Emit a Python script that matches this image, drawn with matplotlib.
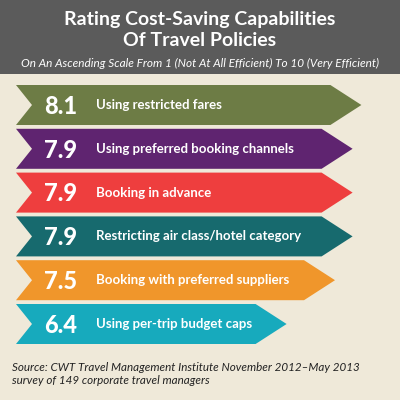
import matplotlib
matplotlib.use("Agg")
import matplotlib.pyplot as plt
from matplotlib.patches import Polygon, Rectangle

# ---- data ----
values = [8.1, 7.9, 7.9, 7.9, 7.5, 6.4]
value_labels = ["8.1", "7.9", "7.9", "7.9", "7.5", "6.4"]
categories = [
    "Using restricted fares",
    "Using preferred booking channels",
    "Booking in advance",
    "Restricting air class/hotel category",
    "Booking with preferred suppliers",
    "Using per-trip budget caps",
]
colors = ["#6d7c45", "#5f2470", "#ee3e3e", "#176a6e", "#f0962b", "#17aabd"]

title_lines = ["Rating Cost-Saving Capabilities", "Of Travel Policies"]
subtitle = "On An Ascending Scale From 1 (Not At All Efficient) To 10 (Very Efficient)"
source = ("Source: CWT Travel Management Institute November 2012\u2013May 2013\n"
          "survey of 149 corporate travel managers")

BG = "#efe9d9"
HEADER = "#5b5b5b"
FONT = "Lato"

fig = plt.figure(figsize=(4, 4), dpi=100, facecolor=BG)
ax = fig.add_axes([0, 0, 1, 1])
ax.set_facecolor(BG)
# pixel mapping: x_px = 5 + 44*v ; y_px = 105 + 43.8*i
ax.set_xlim(-5 / 44, 395 / 44)
ax.set_ylim((400 - 105) / 43.8, -105 / 43.8)
ax.axis("off")

# header
fig.patches.append(Rectangle((0, 1 - 74 / 400), 1, 74 / 400, transform=fig.transFigure,
                             facecolor=HEADER, edgecolor="none", zorder=0))
for ypx, line in zip([20, 40], title_lines):
    fig.text(0.5, 1 - ypx / 400, line, ha="center", va="center", color="white",
             fontsize=14, fontweight="bold", family=FONT)
fig.text(0.5, 1 - 63 / 400, subtitle, ha="center", va="center", color="white",
         fontsize=8.5, style="italic", fontweight="normal", family=FONT)

x0 = 11 / 44       # left edge
notch = 16 / 44    # notch depth
tipl = 31 / 44     # arrow tip length
h = 20 / 43.8      # half height

for i, (v, lab, cat, c) in enumerate(zip(values, value_labels, categories, colors)):
    pts = [(x0, i - h), (v - tipl, i - h), (v, i), (v - tipl, i + h),
           (x0, i + h), (x0 + notch, i)]
    ax.add_patch(Polygon(pts, closed=True, facecolor=c, edgecolor="none"))
    ax.text(56 / 44, i + 0.03, lab, ha="center", va="center", color="white",
            fontsize=17, fontweight="black", family=FONT)
    ax.text(91 / 44, i, cat, ha="left", va="center", color="white",
            fontsize=9.5, fontweight="bold", family=FONT)

fig.text(12 / 400, 1 - 374 / 400, source, ha="left", va="center", color="#222222",
         fontsize=8.4, style="italic", family=FONT, linespacing=1.15)

fig.savefig("out.png", dpi=100, facecolor=BG)
